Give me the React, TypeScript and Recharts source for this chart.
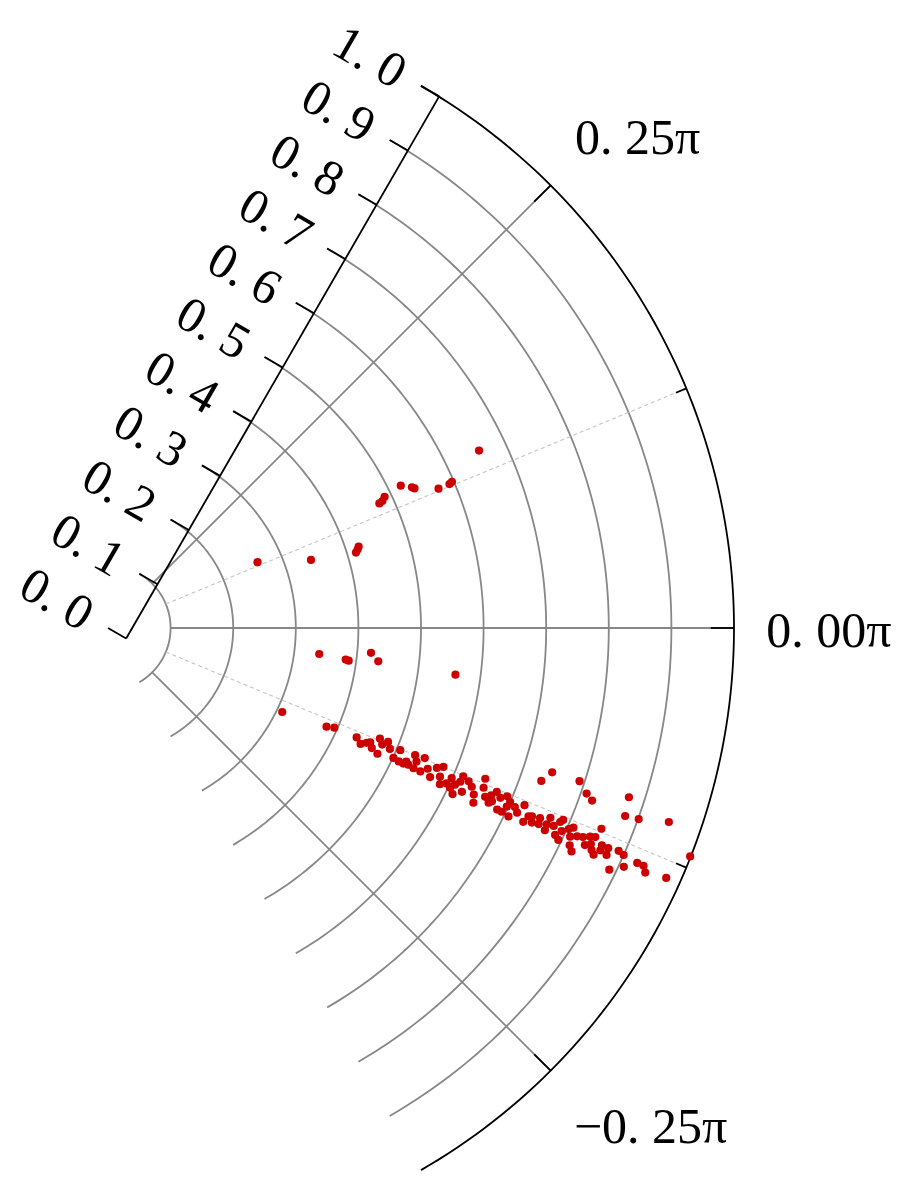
import React from 'react';
import { ScatterChart, Scatter, XAxis, YAxis } from 'recharts';

// angle in units of pi, radius on the 0..1 radial scale
const upperTheta = [0.132, 0.103, 0.094, 0.097, 0.100, 0.137, 0.138, 0.141, 0.144, 0.138, 0.136, 0.127, 0.127, 0.128, 0.142];
const upperR = [0.261, 0.342, 0.414, 0.418, 0.421, 0.477, 0.483, 0.489, 0.520, 0.535, 0.538, 0.573, 0.592, 0.597, 0.657];

const midTheta = [-0.039, -0.042, -0.043, -0.030, -0.039, -0.0425, -0.143, -0.135, -0.132];
const midR = [0.340, 0.383, 0.388, 0.422, 0.435, 0.560, 0.309, 0.383, 0.395];

const lowerTheta = [
  -0.132, -0.137, -0.131, -0.136, -0.123, -0.128, -0.123, -0.139, -0.126, -0.136,
  -0.137, -0.137, -0.136, -0.125, -0.124, -0.137, -0.137, -0.130, -0.138, -0.128,
  -0.125, -0.134, -0.140, -0.131, -0.135, -0.143, -0.138, -0.126, -0.131, -0.128,
  -0.131, -0.142, -0.121, -0.128, -0.134, -0.137, -0.139, -0.137, -0.131, -0.127,
  -0.135, -0.130, -0.127, -0.139, -0.139, -0.134, -0.140, -0.132, -0.135, -0.128,
  -0.139, -0.134, -0.108, -0.100, -0.100, -0.106, -0.109, -0.100, -0.111, -0.110,
  -0.106, -0.133, -0.132, -0.136, -0.129, -0.134, -0.138, -0.133, -0.129, -0.127,
  -0.138, -0.134, -0.140, -0.129, -0.135, -0.133, -0.132, -0.130, -0.129, -0.123,
  -0.140, -0.143, -0.136, -0.137, -0.139, -0.132, -0.135, -0.132, -0.136, -0.131,
  -0.132, -0.138, -0.143, -0.133, -0.133, -0.136, -0.134, -0.119,
  -0.133, -0.129, -0.134, -0.132, -0.136, -0.130, -0.137, -0.131, -0.134,
];
const lowerR = [
  0.434, 0.444, 0.457, 0.463, 0.469, 0.476, 0.483, 0.475, 0.506, 0.501,
  0.511, 0.519, 0.527, 0.531, 0.547, 0.537, 0.549, 0.537, 0.567, 0.571,
  0.580, 0.581, 0.586, 0.599, 0.608, 0.611, 0.623, 0.615, 0.614, 0.626,
  0.634, 0.647, 0.649, 0.652, 0.660, 0.669, 0.603, 0.595, 0.668, 0.674,
  0.673, 0.683, 0.692, 0.686, 0.694, 0.698, 0.707, 0.710, 0.717, 0.723,
  0.732, 0.736, 0.734, 0.746, 0.792, 0.809, 0.821, 0.875, 0.879, 0.901,
  0.948, 0.741, 0.754, 0.756, 0.769, 0.768, 0.769, 0.779, 0.786, 0.789,
  0.787, 0.794, 0.795, 0.809, 0.810, 0.820, 0.829, 0.839, 0.847, 0.851,
  0.815, 0.822, 0.837, 0.850, 0.856, 0.862, 0.863, 0.873, 0.875, 0.890,
  0.900, 0.908, 0.889, 0.925, 0.936, 0.943, 0.977, 0.999,
  0.452, 0.490, 0.522, 0.558, 0.642, 0.700, 0.745, 0.803, 0.845,
];

const radiusTicks = [0, 0.1, 0.2, 0.3, 0.4, 0.5, 0.6, 0.7, 0.8, 0.9, 1.0];
const radiusTickLabels = ['0. 0', '0. 1', '0. 2', '0. 3', '0. 4', '0. 5', '0. 6', '0. 7', '0. 8', '0. 9', '1. 0'];
const angleTicks = [0.25, 0, -0.25];
const angleTickLabels = ['0. 25π', '0. 00π', '−0. 25π'];
const minorAngleTicks = [0.125, -0.125];

// sector layout
const THETA_MIN = -1 / 3;
const THETA_MAX = 1 / 3;
const HOLE = 0.1;
const AXIS_OFFSET = 0.0335;
const MAJOR_TICK = 0.037;
const MINOR_TICK = 0.018;

const W = 890;
const H = 1171;
const X_DOMAIN = [-0.159744, 1.261981];
const Y_DOMAIN = [-0.880192, 0.990415];

// pixel offsets of the angle labels from the rim point of their spoke
const ANGLE_LABEL_SHIFT: Record<string, [number, number]> = {
  '0.25': [87, -31],
  '0': [95, 19],
  '-0.25': [100, 72],
};

const GRID = '#878787';
const FONT = '"Liberation Serif", "Times New Roman", serif';

const polar = (tPi: number, r: number) => ({
  x: r * Math.cos(tPi * Math.PI),
  y: r * Math.sin(tPi * Math.PI),
});

const arc = (r: number) => {
  const pts = [];
  for (let a = THETA_MIN * 180; a <= THETA_MAX * 180 + 1e-9; a += 1) pts.push(polar(a / 180, r));
  return pts;
};

const axisPoint = (r: number) => {
  const p = polar(THETA_MAX, r);
  const o = (THETA_MAX - 0.5) * Math.PI;
  return { x: p.x + AXIS_OFFSET * Math.cos(o), y: p.y + AXIS_OFFSET * Math.sin(o) };
};

const toPoints = (theta: number[], r: number[]) => theta.map((t, i) => polar(t, r[i]));

const NoShape = () => <g />;

const lineSeries = (key: string, data: { x: number; y: number }[], stroke: string, width: number, dash?: string) => (
  <Scatter
    key={key}
    data={data}
    line={{ stroke, strokeWidth: width, strokeDasharray: dash, fill: 'none' }}
    lineType="joint"
    shape={NoShape}
    legendType="none"
    isAnimationActive={false}
  />
);

const Dot = (p: any) => <circle cx={p.cx} cy={p.cy} r={4.1} fill="#cc0000" />;

const RadiusLabel = (p: any) => {
  const x = p.cx - 69;
  const y = p.cy - 40;
  return (
    <text x={x} y={y} transform={`rotate(30 ${x} ${y})`} textAnchor="middle" dominantBaseline="central"
      fontFamily={FONT} fontSize={50} fill="#000">
      {p.payload.label}
    </text>
  );
};

const AngleLabel = (p: any) => {
  const [dx, dy] = ANGLE_LABEL_SHIFT[String(p.payload.t)];
  return (
    <text x={p.cx + dx} y={p.cy + dy} textAnchor="middle" fontFamily={FONT} fontSize={50} fill="#000">
      {p.payload.label}
    </text>
  );
};

export default function App() {
  const rings = radiusTicks.filter((r) => r >= HOLE - 1e-9 && r < 1);
  const radiusLabelData = radiusTicks.map((r, i) => ({ ...axisPoint(r), label: radiusTickLabels[i] }));
  const angleLabelData = angleTicks.map((t, i) => ({ ...polar(t, 1), t, label: angleTickLabels[i] }));

  return (
    <div style={{ width: W, height: H }}>
      <ScatterChart width={W} height={H} margin={{ top: 0, right: 0, bottom: 0, left: 0 }}>
        <XAxis type="number" dataKey="x" domain={X_DOMAIN} allowDataOverflow hide />
        <YAxis type="number" dataKey="y" domain={Y_DOMAIN} allowDataOverflow hide />

        {rings.map((r) => lineSeries(`ring-${r}`, arc(r), GRID, 1.8))}
        {angleTicks.map((t) => lineSeries(`spoke-${t}`, [polar(t, HOLE), polar(t, 1)], GRID, 1.8))}
        {minorAngleTicks.map((t) => lineSeries(`minor-${t}`, [polar(t, HOLE), polar(t, 1)], '#c4c4c4', 1.1, '4 3'))}

        {lineSeries('rim', arc(1), '#000', 1.8)}
        {angleTicks.map((t) => lineSeries(`tick-${t}`, [polar(t, 1 - MAJOR_TICK), polar(t, 1)], '#000', 1.8))}
        {minorAngleTicks.map((t) => lineSeries(`mtick-${t}`, [polar(t, 1 - MINOR_TICK), polar(t, 1)], '#000', 1.8))}

        {lineSeries('raxis', [axisPoint(0), axisPoint(1)], '#000', 1.8)}
        {radiusTicks.map((r) => lineSeries(`rtick-${r}`, [axisPoint(r), polar(THETA_MAX, r)], '#000', 1.8))}

        <Scatter data={toPoints(upperTheta, upperR)} shape={Dot} legendType="none" isAnimationActive={false} />
        <Scatter data={toPoints(midTheta, midR)} shape={Dot} legendType="none" isAnimationActive={false} />
        <Scatter data={toPoints(lowerTheta, lowerR)} shape={Dot} legendType="none" isAnimationActive={false} />

        <Scatter data={radiusLabelData} shape={RadiusLabel} legendType="none" isAnimationActive={false} />
        <Scatter data={angleLabelData} shape={AngleLabel} legendType="none" isAnimationActive={false} />
      </ScatterChart>
    </div>
  );
}
